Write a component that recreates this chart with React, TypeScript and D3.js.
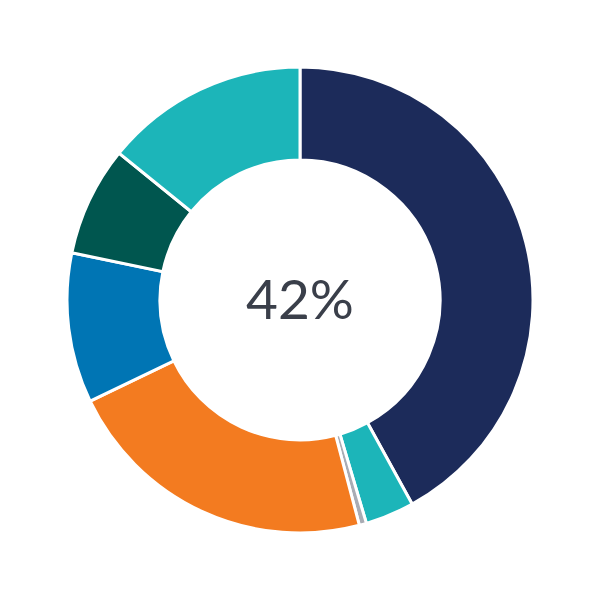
import * as d3 from "d3";

const segments = ["Navy", "Teal small", "Gray", "Orange", "Blue", "Dark green", "Teal"];
const shares = [42, 3.4, 0.5, 21.95, 10.4, 7.6, 14.15];
const colors = ["#1c2b5a", "#1cb5b9", "#a9acb4", "#f37b20", "#0075b4", "#00564f", "#1cb5b9"];
const centerLabel = "42%";

export default function App() {
  const size = 600;
  const outer = 233;
  const inner = 140;
  const cx = 300;
  const cy = 300;

  const pie = d3.pie<number>().sort(null).value((d) => d);
  const arcs = pie(shares);
  const arc = d3.arc<d3.PieArcDatum<number>>().innerRadius(inner).outerRadius(outer);

  return (
    <svg width={size} height={size} style={{ position: "absolute", left: 0, top: 0, background: "#ffffff" }}>
      <g transform={`translate(${cx},${cy})`}>
        {arcs.map((a, i) => (
          <path key={segments[i]} d={arc(a)!} fill={colors[i]} stroke="#ffffff" strokeWidth={3} />
        ))}
        <text x={0} y={0} dy="0.35em" textAnchor="middle" fontSize={55} fontFamily="Lato, 'Open Sans', sans-serif" fill="#3a3f4a">
          {centerLabel}
        </text>
      </g>
    </svg>
  );
}
